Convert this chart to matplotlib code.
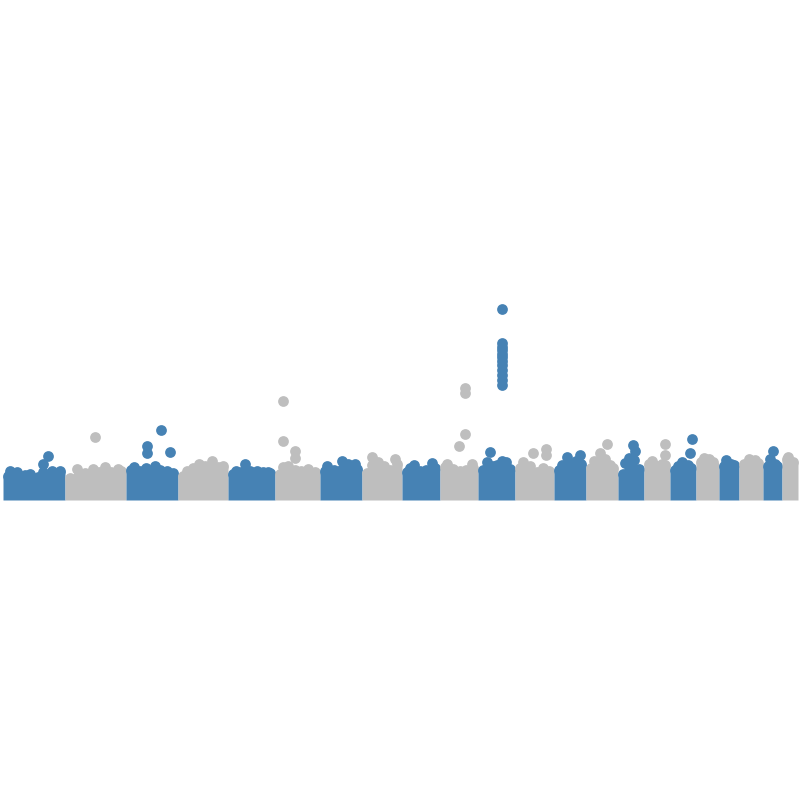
import numpy as np
import matplotlib
matplotlib.use("Agg")
import matplotlib.pyplot as plt

# chromosome widths on the genome axis (same units as positions below)
chrom_len = [62, 61, 52, 50, 47, 45, 42, 40, 38, 38, 37,
             39, 32, 32, 26, 26, 26, 23, 20, 24, 19, 16]

# upper envelope of the dense background SNP cloud, per chromosome
sky_pos = [
    [5, 7, 14, 22, 27, 35, 40, 49, 57],
    [5, 12, 20, 28, 34, 40, 46, 53, 56],
    [5, 8, 14, 20, 29, 34, 41, 47],
    [5, 9, 15, 21, 27, 34, 40, 45],
    [5, 8, 13, 17, 22, 29, 35, 40, 42],
    [5, 8, 13, 20, 26, 33, 40],
    [5, 7, 14, 22, 28, 35, 37],
    [5, 10, 16, 22, 28, 35],
    [5, 8, 12, 18, 24, 30, 33],
    [5, 7, 13, 20, 26, 32, 33],
    [5, 9, 15, 19, 24, 28, 32],
    [5, 8, 15, 22, 28, 34],
    [5, 8, 13, 18, 22, 26, 27],
    [5, 8, 14, 19, 24, 27],
    [5, 7, 11, 16, 21],
    [5, 8, 13, 18, 21],
    [5, 8, 12, 18, 21],
    [5, 8, 13, 17, 18],
    [5, 7, 12, 15],
    [5, 10, 16, 19],
    [5, 7, 10, 12, 14],
    [5, 6, 11],
]
sky_logp = [
    [1.9, 2.4, 2.3, 2.0, 2.1, 1.8, 2.3, 2.4, 2.4],
    [1.7, 2.6, 2.2, 2.6, 2.3, 2.8, 2.3, 2.6, 2.4],
    [2.5, 2.8, 2.4, 2.7, 2.9, 2.5, 2.4, 2.2],
    [1.9, 2.4, 2.7, 3.1, 2.9, 3.4, 2.8, 2.9],
    [2.1, 2.4, 2.3, 3.1, 2.4, 2.4, 2.3, 2.3, 2.2],
    [2.1, 2.8, 2.9, 2.5, 2.4, 2.6, 2.3],
    [2.4, 2.9, 2.5, 3.4, 3.1, 3.1, 2.6],
    [2.2, 3.0, 3.3, 2.9, 2.5, 3.1],
    [2.3, 2.7, 3.0, 2.4, 2.5, 3.2, 2.7],
    [2.8, 3.1, 2.6, 2.4, 2.5, 3.1, 2.7],
    [2.5, 3.3, 2.9, 3.0, 3.4, 3.3, 2.6],
    [2.7, 3.3, 2.9, 2.3, 2.7, 2.4],
    [2.5, 3.0, 3.8, 3.0, 3.4, 4.0, 3.1],
    [2.7, 3.4, 4.2, 3.6, 3.0, 2.7],
    [2.1, 3.2, 3.7, 3.5, 2.6],
    [3.1, 3.4, 2.9, 3.1, 3.0],
    [2.5, 2.9, 3.3, 3.0, 2.7],
    [3.3, 3.7, 3.6, 3.3, 2.9],
    [2.9, 3.5, 3.1, 3.0],
    [3.1, 3.6, 3.5, 3.2],
    [2.9, 3.6, 4.4, 3.1, 2.9],
    [3.6, 3.8, 3.3],
]

# SNPs standing out above the cloud
hit_pos = [
    [40, 45], [30], [21, 21, 35, 44], [], [], [8, 8, 20, 20], [], [10, 33], [],
    [19, 25, 25, 25],
    [12, 24, 24, 24, 24, 24, 24, 24, 24, 24, 24, 24, 24],
    [18, 31, 31], [], [21], [15, 17], [21, 21], [22, 20], [], [], [], [], [],
]
hit_logp = [
    [3.1, 3.9], [5.8], [4.9, 4.2, 6.5, 4.3], [], [], [9.4, 5.4, 4.4, 3.7], [], [3.8, 3.6], [],
    [4.9, 6.1, 10.2, 10.7],
    [4.3, 18.6, 15.2, 14.8, 14.5, 14.1, 13.8, 13.4, 13.0, 12.5, 12.0, 11.5, 11.0],
    [4.2, 4.6, 4.0], [], [5.1], [5.0, 4.4], [5.1, 4.0], [5.6, 4.2], [], [], [], [], [],
]

colors = ["#4682B4", "#BEBEBE"]
r = 5.0  # marker radius in axis units
msize = 60

fig = plt.figure(figsize=(8, 8), dpi=100)
ax = fig.add_axes([0, 0, 1, 1])

starts = np.concatenate([[0], np.cumsum(chrom_len)[:-1]])
for i, start in enumerate(starts):
    c = colors[i % 2]
    p = np.array(sky_pos[i], dtype=float)
    h = np.array(sky_logp[i], dtype=float)
    xs = start + np.r_[p[0] - r, p, p[-1] + r]
    top = np.r_[h[0], h, h[-1]]
    ax.fill_between(xs, -0.5, top, color=c, linewidth=0)
    ax.scatter(start + p, h, s=msize, color=c, linewidths=0)
    if hit_pos[i]:
        ax.scatter(start + np.array(hit_pos[i]), hit_logp[i], s=msize,
                   color=c, linewidths=0)

ax.set_xlim(-3, 797)
ax.set_ylim(-30.5, 49.5)
ax.axis("off")

fig.savefig("out.png", dpi=100)
